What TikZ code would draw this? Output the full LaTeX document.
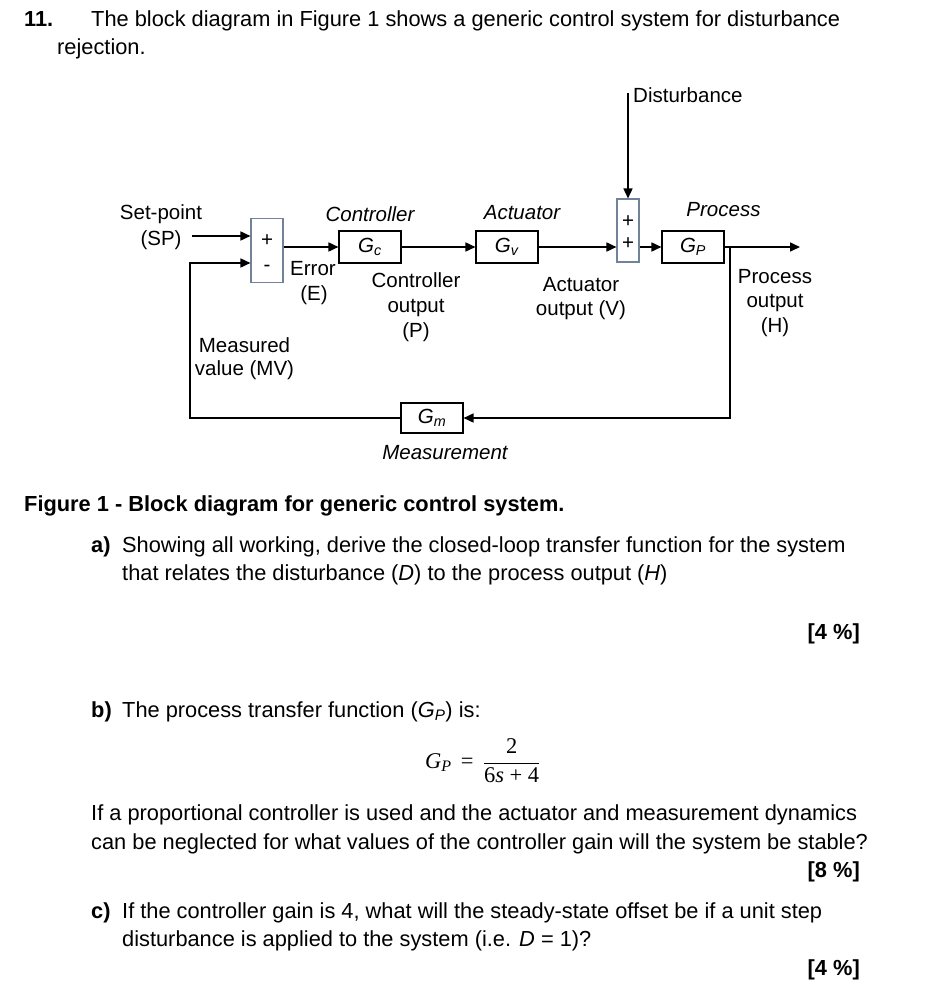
\documentclass[tikz,border=0pt]{standalone}
\usepackage{fontspec}
\setmainfont{Liberation Sans}
\newfontfamily\eqf{Liberation Serif}
\usetikzlibrary{arrows.meta}
\newcommand\dfs{\fontsize{20.5}{24}\selectfont}
\newcommand\tfs{\fontsize{21.8}{28}\selectfont}
\definecolor{sumcol}{RGB}{115,130,155}
\begin{document}
\begin{tikzpicture}[x=1pt,y=-1pt,
  blk/.style={draw, line width=1.1pt, minimum width=62pt, minimum height=32pt, inner sep=0pt, font=\dfs},
  sumj/.style={draw=sumcol, line width=1.1pt, inner sep=0pt},
  lbl/.style={font=\dfs, inner sep=0pt, anchor=base},
  txt/.style={font=\tfs, inner sep=0pt, anchor=base west},
  pct/.style={font=\tfs\bfseries, inner sep=0pt, anchor=base east},
  wire/.style={line width=1.6pt},
  arr/.style={wire, -{Triangle[length=10pt,width=9pt]}},
]
\useasboundingbox (0,0) rectangle (926,982);

% ---------- blocks ----------
\node[blk] (gc) at (370,247) {\textit{G}\textsubscript{\textit{c}}};
\node[blk] (gv) at (507,247) {\textit{G}\textsubscript{\textit{v}}};
\node[blk] (gp) at (693,247) {\textit{G}\textsubscript{\textit{P}}};
\node[blk, minimum height=30pt] (gm) at (432,418) {\textit{G}\textsubscript{\textit{m}}};
\node[sumj, minimum width=32pt, minimum height=64pt] (s1) at (267,250.5) {};
\node[sumj, minimum width=22pt, minimum height=63pt] (s2) at (628,230.5) {};
\node[lbl] (s1p) at (267,246) {+};
\node[lbl] (s1m) at (267,271) {-};
\node[lbl] (s2a) at (628,227) {+};
\node[lbl] (s2b) at (628,249) {+};

% ---------- connectors ----------
\coordinate (spin) at (192,236);
\draw[arr] (spin) -- (spin -| s1.west);
\coordinate (bl) at (190,418);
\coordinate (tl) at (190,263);
\draw[arr] (gm.west) -- (bl) -- (tl) -- (tl -| s1.west);
\draw[arr] (s1.east |- gc.west) -- (gc.west);
\draw[arr] (gc.east) -- (gv.west);
\draw[arr] (gv.east) -- (gv.east -| s2.west);
\draw[arr] (s2.east |- gp.west) -- (gp.west);
\coordinate (out) at (800,247);
\draw[arr] (gp.east) -- (out);
\coordinate (br) at (730,247);
\coordinate (brd) at (730,418);
\draw[arr] (br) -- (brd) -- (brd -| gm.east);
\coordinate (dtop) at (628,93);
\draw[arr] (dtop) -- (s2.north);

% ---------- diagram labels ----------
\node[lbl] (l1) at (161,219) {Set-point};
\node[lbl] (l2) at (161,245) {(SP)};
\node[lbl] (l3) at (370,221) {\itshape Controller};
\node[lbl] (l4) at (522,219) {\itshape Actuator};
\node[lbl] (l5) at (723.5,216) {\itshape Process};
\node[lbl, anchor=base west] (l6) at (633,102) {Disturbance};
\node[lbl, anchor=base west] (l7) at (290,275) {Error};
\node[lbl] (l8) at (314,300) {(E)};
\node[lbl] (l9) at (416,287) {Controller};
\node[lbl] (l10) at (416,312) {output};
\node[lbl] (l11) at (416,337) {(P)};
\node[lbl] (l12) at (581,291) {Actuator};
\node[lbl] (l13) at (581,315) {output (V)};
\node[lbl] (l14) at (775,283) {Process};
\node[lbl] (l15) at (775,307) {output};
\node[lbl] (l16) at (775,332) {(H)};
\node[lbl] (l17) at (244.5,352) {Measured};
\node[lbl] (l18) at (244.5,375) {value (MV)};
\node[lbl] (l19) at (445,459) {\itshape Measurement};

% ---------- question text ----------
\node[txt] (q0) at (24,27) {\bfseries 11.};
\node[txt] (q1) at (91,27) {The block diagram in Figure 1 shows a generic control system for disturbance};
\node[txt] (q2) at (57,55) {rejection.};
\node[txt] (cap) at (24,511) {\bfseries Figure 1 - Block diagram for generic control system.};
\node[txt] (a0) at (91,552) {\bfseries a)};
\node[txt] (a1) at (122,552) {Showing all working, derive the closed-loop transfer function for the system};
\node[txt] (a2) at (122,580) {that relates the disturbance (\textit{D}) to the process output (\textit{H})};
\node[pct] (m1) at (860,639) {[4 \%]};
\node[txt] (b0) at (91,717) {\bfseries b)};
\node[txt] (b1) at (122,717) {The process transfer function (\textit{G}\textsubscript{\textit{P}}) is:};
\node[inner sep=0pt, anchor=base west] (eq) at (425,768) {\eqf\fontsize{22.5}{26}\selectfont$\displaystyle \mbox{\itshape G}_{\mbox{\fontsize{16}{16}\selectfont\itshape P}}\,\mathrel{\mbox{=}}\,\frac{\mbox{2}}{\mbox{6\itshape s\upshape\ + 4}}$};
\node[txt] (b2) at (91,820) {If a proportional controller is used and the actuator and measurement dynamics};
\node[txt] (b3) at (91,849) {can be neglected for what values of the controller gain will the system be stable?};
\node[pct] (m2) at (860,877) {[8 \%]};
\node[txt] (c0) at (91,918) {\bfseries c)};
\node[txt] (c1) at (122,918) {If the controller gain is 4, what will the steady-state offset be if a unit step};
\node[txt] (c2) at (122,946) {disturbance is applied to the system (i.e. \textit{D} = 1)?};
\node[pct] (m3) at (860,975) {[4 \%]};
\end{tikzpicture}
\end{document}
